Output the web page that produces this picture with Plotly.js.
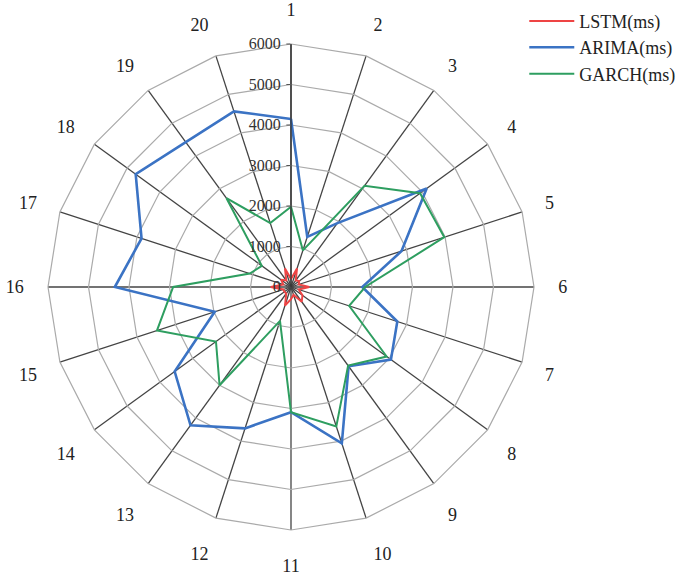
<!DOCTYPE html>
<html>
<head>
<meta charset="utf-8">
<script src="https://cdn.plot.ly/plotly-3.0.1.min.js"></script>
<style>html,body{margin:0;padding:0;background:#fff;}</style>
</head>
<body>
<div id="chart" style="width:685px;height:576px;"></div>
<script>
var categories = ["1","2","3","4","5","6","7","8","9","10","11","12","13","14","15","16","17","18","19","20"];
var lstm  = [200, 480, 200, 250, 200, 450, 200, 350, 450, 200, 300, 480, 200, 200, 200, 500, 200, 300, 200, 480];
var arima = [4150, 1300, 1950, 4140, 2870, 1760, 2760, 3050, 2420, 4060, 3090, 3670, 4220, 3550, 1980, 4350, 3880, 4740, 4420, 4560];
var garch = [1980, 950, 3090, 3940, 3980, 1830, 1510, 2920, 2400, 3620, 3090, 880, 3000, 2290, 3480, 2910, 1070, 890, 2710, 1660];
var radialTicks = [0, 1000, 2000, 3000, 4000, 5000, 6000];

function closed(a){ return a.concat([a[0]]); }

var traces = [
  {type:'scatterpolar', mode:'lines', name:'LSTM(ms)', r:closed(lstm), theta:closed(categories),
   line:{color:'#ee4444', width:2}},
  {type:'scatterpolar', mode:'lines', name:'ARIMA(ms)', r:closed(arima), theta:closed(categories),
   line:{color:'#3b73c4', width:2.6}},
  {type:'scatterpolar', mode:'lines', name:'GARCH(ms)', r:closed(garch), theta:closed(categories),
   line:{color:'#2e9e60', width:2}}
];

var layout = {
  width:685, height:576,
  margin:{l:48, r:151, t:44, b:46, autoexpand:false},
  paper_bgcolor:'#fff',
  showlegend:true,
  legend:{x:0.98, y:1.085, xanchor:'left', yanchor:'top', bgcolor:'rgba(0,0,0,0)',
          itemwidth:45, tracegroupgap:0,
          font:{family:'Liberation Serif', size:18, color:'#222'}},
  polar:{
    domain:{x:[0,1], y:[0,1]},
    bgcolor:'#fff',
    gridshape:'linear',
    angularaxis:{
      type:'category', categoryarray:categories,
      rotation:90, direction:'clockwise',
      showgrid:true, gridcolor:'#444', gridwidth:1.3,
      showline:true, linecolor:'#aaa', linewidth:1.2,
      ticks:'outside', ticklen:20, tickcolor:'rgba(0,0,0,0)',
      tickfont:{family:'Liberation Serif', size:18, color:'#222'}
    },
    radialaxis:{
      range:[0,6000], tickvals:radialTicks, angle:90, tickangle:90,
      side:'counterclockwise',
      showgrid:true, gridcolor:'#aaa', gridwidth:1.2,
      showline:true, linecolor:'#333', linewidth:1.3,
      ticks:'outside', ticklen:4, tickcolor:'#555',
      tickfont:{family:'Liberation Serif', size:16, color:'#333'}
    }
  }
};

Plotly.newPlot('chart', traces, layout, {displayModeBar:false, staticPlot:true});
</script>
</body>
</html>
